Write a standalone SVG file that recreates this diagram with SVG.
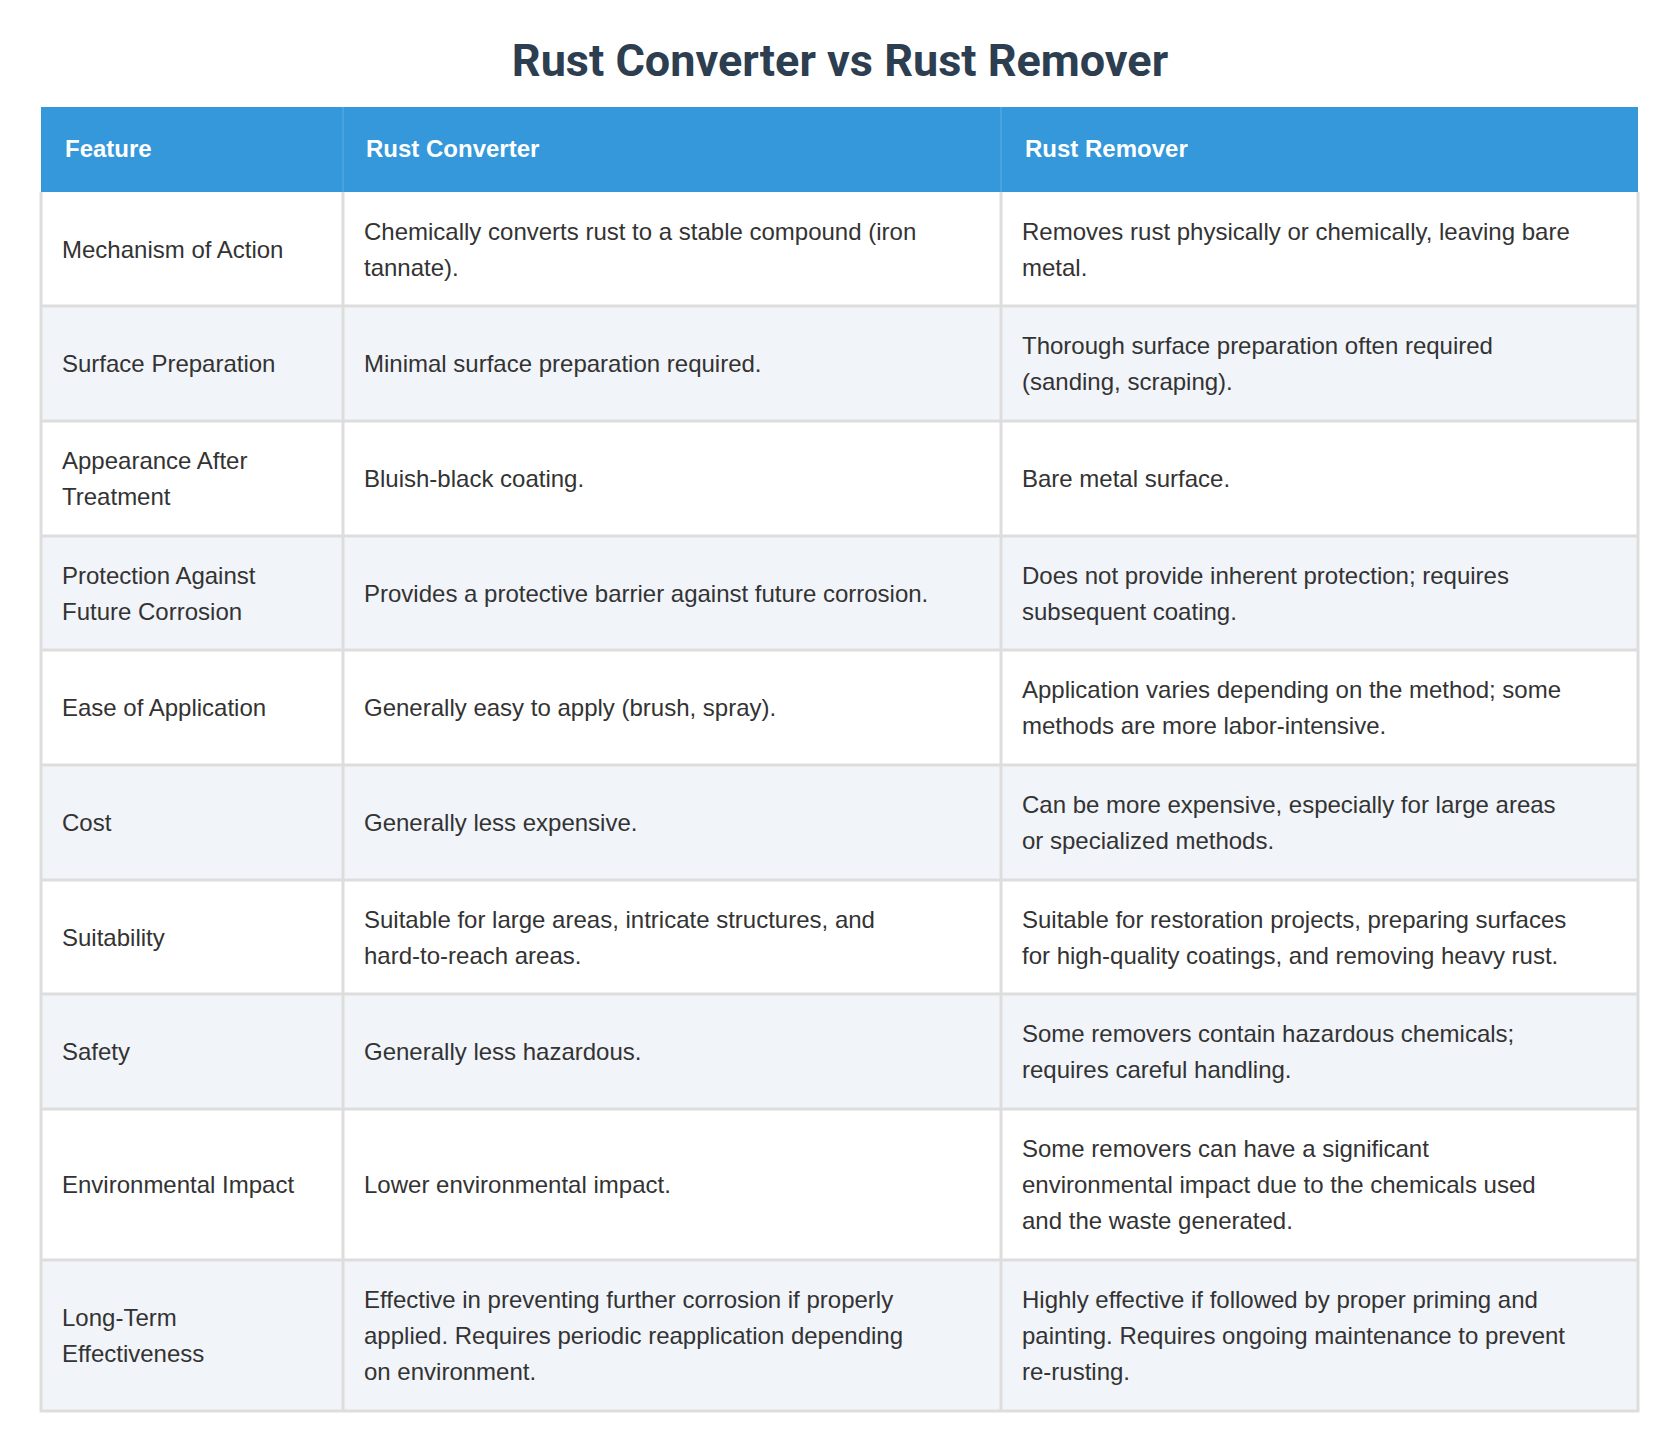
<svg xmlns="http://www.w3.org/2000/svg" width="1680" height="1454" viewBox="0 0 1680 1454">
<style>
.t{font-family:Roboto,"Liberation Sans",sans-serif;font-weight:bold;font-size:45px;fill:#2c3e50}
.h{font-family:"Liberation Sans",Arial,sans-serif;font-weight:bold;font-size:24px;fill:#fff}
.b{font-family:"Liberation Sans",Arial,sans-serif;font-size:24px;fill:#333}
.odd{fill:#fff}.even{fill:#f1f4f9}
.g{stroke:#dddddd;stroke-width:3;fill:none}
</style>
<rect width="1680" height="1454" fill="#fff"/>
<text class="t" x="840" y="76" text-anchor="middle">Rust Converter vs Rust Remover</text>
<g id="header">
<rect x="41" y="107" width="1597" height="85" fill="#3498db"/>
<line x1="343" y1="107" x2="343" y2="192" stroke="#5dade2" stroke-width="1"/>
<line x1="1001" y1="107" x2="1001" y2="192" stroke="#5dade2" stroke-width="1"/>
<text class="h" x="65" y="157">Feature</text>
<text class="h" x="366" y="157">Rust Converter</text>
<text class="h" x="1025" y="157">Rust Remover</text>
</g>
<g id="rows">
<rect class="odd" x="41" y="192" width="1597" height="114"/>
<rect class="even" x="41" y="306" width="1597" height="115"/>
<rect class="odd" x="41" y="421" width="1597" height="115"/>
<rect class="even" x="41" y="536" width="1597" height="114"/>
<rect class="odd" x="41" y="650" width="1597" height="115"/>
<rect class="even" x="41" y="765" width="1597" height="115"/>
<rect class="odd" x="41" y="880" width="1597" height="114"/>
<rect class="even" x="41" y="994" width="1597" height="115"/>
<rect class="odd" x="41" y="1109" width="1597" height="151"/>
<rect class="even" x="41" y="1260" width="1597" height="151"/>
</g>
<g id="grid" class="g">
<path d="M41 192V1411H1638V192M343 192V1411M1001 192V1411M41 306H1638M41 421H1638M41 536H1638M41 650H1638M41 765H1638M41 880H1638M41 994H1638M41 1109H1638M41 1260H1638"/>
</g>
<g id="cells" class="b">
<text x="62" y="258">Mechanism of Action</text>
<text x="364" y="240">Chemically converts rust to a stable compound (iron<tspan x="364" dy="36">tannate).</tspan></text>
<text x="1022" y="240">Removes rust physically or chemically, leaving bare<tspan x="1022" dy="36">metal.</tspan></text>

<text x="62" y="372">Surface Preparation</text>
<text x="364" y="372">Minimal surface preparation required.</text>
<text x="1022" y="354">Thorough surface preparation often required<tspan x="1022" dy="36">(sanding, scraping).</tspan></text>

<text x="62" y="469">Appearance After<tspan x="62" dy="36">Treatment</tspan></text>
<text x="364" y="487">Bluish-black coating.</text>
<text x="1022" y="487">Bare metal surface.</text>

<text x="62" y="584">Protection Against<tspan x="62" dy="36">Future Corrosion</tspan></text>
<text x="364" y="602">Provides a protective barrier against future corrosion.</text>
<text x="1022" y="584">Does not provide inherent protection; requires<tspan x="1022" dy="36">subsequent coating.</tspan></text>

<text x="62" y="716">Ease of Application</text>
<text x="364" y="716">Generally easy to apply (brush, spray).</text>
<text x="1022" y="698">Application varies depending on the method; some<tspan x="1022" dy="36">methods are more labor-intensive.</tspan></text>

<text x="62" y="831">Cost</text>
<text x="364" y="831">Generally less expensive.</text>
<text x="1022" y="813">Can be more expensive, especially for large areas<tspan x="1022" dy="36">or specialized methods.</tspan></text>

<text x="62" y="946">Suitability</text>
<text x="364" y="928">Suitable for large areas, intricate structures, and<tspan x="364" dy="36">hard-to-reach areas.</tspan></text>
<text x="1022" y="928">Suitable for restoration projects, preparing surfaces<tspan x="1022" dy="36">for high-quality coatings, and removing heavy rust.</tspan></text>

<text x="62" y="1060">Safety</text>
<text x="364" y="1060">Generally less hazardous.</text>
<text x="1022" y="1042">Some removers contain hazardous chemicals;<tspan x="1022" dy="36">requires careful handling.</tspan></text>

<text x="62" y="1193">Environmental Impact</text>
<text x="364" y="1193">Lower environmental impact.</text>
<text x="1022" y="1157">Some removers can have a significant<tspan x="1022" dy="36">environmental impact due to the chemicals used</tspan><tspan x="1022" dy="36">and the waste generated.</tspan></text>

<text x="62" y="1326">Long-Term<tspan x="62" dy="36">Effectiveness</tspan></text>
<text x="364" y="1308">Effective in preventing further corrosion if properly<tspan x="364" dy="36">applied. Requires periodic reapplication depending</tspan><tspan x="364" dy="36">on environment.</tspan></text>
<text x="1022" y="1308">Highly effective if followed by proper priming and<tspan x="1022" dy="36">painting. Requires ongoing maintenance to prevent</tspan><tspan x="1022" dy="36">re-rusting.</tspan></text>
</g>
</svg>
